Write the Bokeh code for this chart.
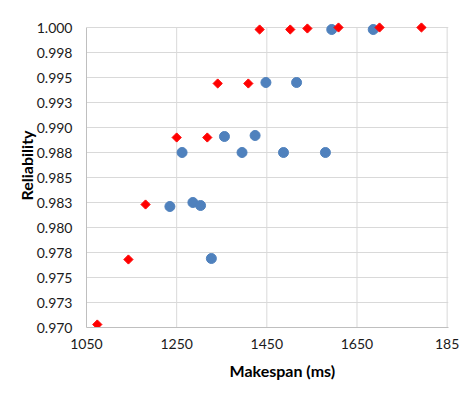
import numpy as np
from bokeh.plotting import figure
from bokeh.models import FixedTicker, Range1d, Title
from bokeh.embed import file_html
from bokeh.resources import INLINE

# Data
blue_x = [1235, 1262, 1286, 1303, 1327, 1356, 1395, 1424, 1448, 1487, 1516, 1580, 1594, 1686]
blue_y = [0.9821, 0.9875, 0.9825, 0.9822, 0.9769, 0.9891, 0.9875, 0.9892, 0.9945, 0.9875, 0.9945, 0.9875, 0.9998, 0.9998]
red_x = [1074, 1143, 1181, 1250, 1318, 1341, 1409, 1434, 1502, 1540, 1609, 1700, 1793]
red_y = [0.9703, 0.9768, 0.9823, 0.9890, 0.9890, 0.9944, 0.9944, 0.9998, 0.9998, 0.9999, 1.0000, 1.0000, 1.0000]

x_ticks = [1050, 1250, 1450, 1650, 1850]
x_tick_labels = ["1050", "1250", "1450", "1650", "185"]
y_ticks = [0.970, 0.9725, 0.975, 0.9775, 0.980, 0.9825, 0.985, 0.9875, 0.990, 0.9925, 0.995, 0.9975, 1.000]
y_tick_labels = ["0.970", "0.973", "0.975", "0.978", "0.980", "0.983", "0.985", "0.988",
                 "0.990", "0.993", "0.995", "0.998", "1.000"]
x_title = "Makespan (ms)"
y_title = "Reliability"
X_MIN, X_MAX = 1050, 1850
Y_MIN, Y_MAX = 0.970, 1.000

FONT = "Lato"
GRID = "#D9D9D9"
AXIS = "#BFBFBF"

p = figure(frame_width=362, frame_height=307,
           x_range=Range1d(X_MIN, 1853), y_range=Range1d(Y_MIN, 1.0007),
           output_backend="svg", toolbar_location=None,
           min_border_left=86, min_border_right=18, min_border_top=20, min_border_bottom=61)
p.outline_line_color = None
p.background_fill_color = "white"
p.border_fill_color = "white"

# vertical grid lines (bounded to the data area)
p.xgrid.grid_line_color = None
p.segment(x0=x_ticks[1:], y0=[Y_MIN] * (len(x_ticks) - 1), x1=x_ticks[1:], y1=[Y_MAX] * (len(x_ticks) - 1),
          line_color=GRID, line_width=1)
p.ygrid.grid_line_color = GRID
p.ygrid.ticker = FixedTicker(ticks=y_ticks)

p.xaxis.ticker = FixedTicker(ticks=x_ticks)
p.yaxis.ticker = FixedTicker(ticks=y_ticks)
p.xaxis.major_label_overrides = {t: l for t, l in zip(x_ticks, x_tick_labels)}
p.yaxis.major_label_overrides = {t: l for t, l in zip(y_ticks, y_tick_labels)}
p.yaxis.bounds = (Y_MIN, Y_MAX)

for ax in (p.xaxis[0], p.yaxis[0]):
    ax.axis_line_color = AXIS
    ax.major_tick_in = 0
    ax.major_tick_out = 0
    ax.minor_tick_line_color = None
    ax.major_label_text_font = FONT
    ax.major_label_text_font_size = "14px"
    ax.major_label_text_color = "#1a1a1a"

p.xaxis.major_label_standoff = 11
p.yaxis.major_label_standoff = 14

# axis titles, placed slightly off-centre as in the reference
tstyle = dict(text_font=FONT, text_font_style="bold", text_font_size="16px", text_color="#000000",
              align="left")
p.add_layout(Title(text=x_title, offset=143, standoff=14, **tstyle), "below")
p.add_layout(Title(text=y_title, offset=127, standoff=-4, **tstyle), "left")

p.scatter(blue_x, blue_y, marker="circle", size=10, fill_color="#4F81BD", line_color="#4F81BD")
p.scatter(red_x, red_y, marker="square", size=6.5, angle=np.pi / 4,
          fill_color="#FF0000", line_color="#FF0000")

open("out.html", "w").write(file_html(p, INLINE))
